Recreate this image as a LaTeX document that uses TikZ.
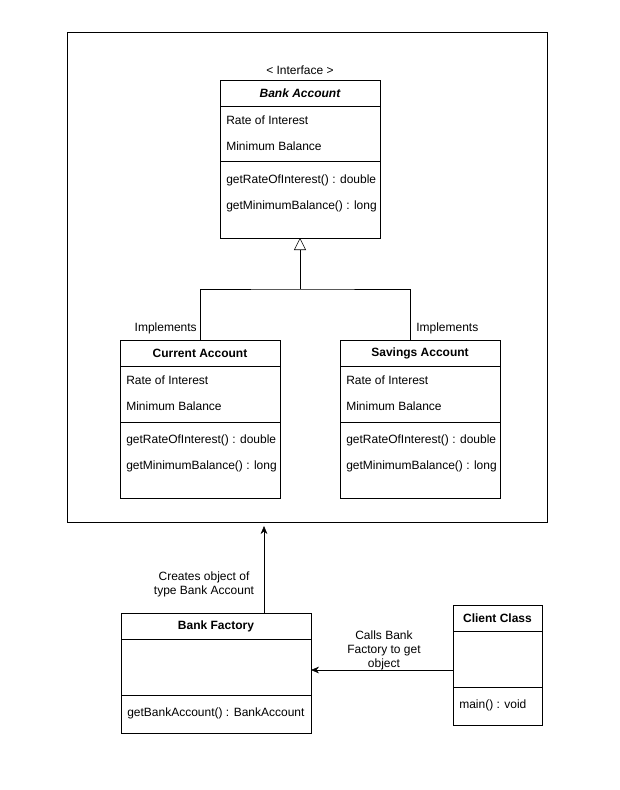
\documentclass[tikz,border=0pt]{standalone}
\usepackage{fontspec}
\setmainfont{Liberation Sans}
\usetikzlibrary{arrows.meta}
\begin{document}
\begin{tikzpicture}[x=0.75pt,y=-0.75pt,
  every node/.style={font=\fontsize{9}{10.5}\selectfont},
  cls/.style={draw,anchor=north west,inner sep=0pt,outer sep=0pt},
  member/.style={anchor=west,inner sep=0pt},
  note/.style={align=center,inner sep=0pt},
  callarrow/.style={-{Stealth[length=6pt,width=5pt]}},
  implarrow/.style={-{Triangle[open,length=9pt,width=9pt]}}]
\useasboundingbox (0,0) rectangle (620,790);
% container
\node[cls,minimum width=360pt,minimum height=367.5pt] (frame) at (67,32) {};
% interface
\node[note] (stereo) at (300,70.5) {< Interface >};
\node[cls,minimum width=120pt,minimum height=118.5pt] (bank) at (220,80) {};
\draw (220,106) -- (380,106);
\draw (220,161) -- (380,161);
\node[note] (banktitle) at (300,93.5) {\bfseries\itshape Bank Account};
\node[member] at (226,120.5) {Rate of Interest};
\node[member] at (226,146.5) {Minimum Balance};
\node[member] at (226,180.5) {getRateOfInterest() : double};
\node[member] at (226,206.5) {getMinimumBalance() : long};
% current account
\node[cls,minimum width=120pt,minimum height=118.5pt] (current) at (120,340) {};
\draw (120,366) -- (280,366);
\draw (120,422) -- (280,422);
\node[note] at (200,353.5) {\bfseries Current Account};
\node[member] at (126,380.5) {Rate of Interest};
\node[member] at (126,406.5) {Minimum Balance};
\node[member] at (126,440.5) {getRateOfInterest() : double};
\node[member] at (126,466.5) {getMinimumBalance() : long};
% savings account
\node[cls,minimum width=120pt,minimum height=118.5pt] (savings) at (340,340) {};
\draw (340,366) -- (500,366);
\draw (340,422) -- (500,422);
\node[note] at (420,353.5) {\bfseries Savings Account};
\node[member] at (346,380.5) {Rate of Interest};
\node[member] at (346,406.5) {Minimum Balance};
\node[member] at (346,440.5) {getRateOfInterest() : double};
\node[member] at (346,466.5) {getMinimumBalance() : long};
% implements
\coordinate (split) at (300,289);
\coordinate (savingsin) at (410,340);
\draw[implarrow] (split) -- (bank.south);
\draw (current.north) |- (split) -| (savingsin);
\node[anchor=east,inner sep=0pt] (implleft) at (197,328.5) {Implements};
\node[anchor=west,inner sep=0pt] (implright) at (416,328.5) {Implements};
% factory
\node[cls,minimum width=142.5pt,minimum height=90pt] (factory) at (121,613) {};
\draw (121,639) -- (311,639);
\draw (121,695) -- (311,695);
\node[note] at (216,626.5) {\bfseries Bank Factory};
\node[member] at (127,713.5) {getBankAccount() : BankAccount};
% client
\node[cls,minimum width=66.75pt,minimum height=90pt] (client) at (453,605) {};
\draw (453,631) -- (542,631);
\draw (453,687) -- (542,687);
\node[note] at (497.5,618.5) {\bfseries Client Class};
\node[member] at (459,705.5) {main() : void};
% arrows
\coordinate (creates) at (264,613);
\draw[callarrow,shorten >=3pt] (creates) -- (creates |- frame.south);
\node[note] (createslbl) at (204,584.5) {Creates object of\\type Bank Account};
\coordinate (calls) at (453,670);
\draw[callarrow] (calls) -- (calls -| factory.east);
\node[note] (callslbl) at (384,650.5) {Calls Bank\\Factory to get\\object};
\end{tikzpicture}
\end{document}
